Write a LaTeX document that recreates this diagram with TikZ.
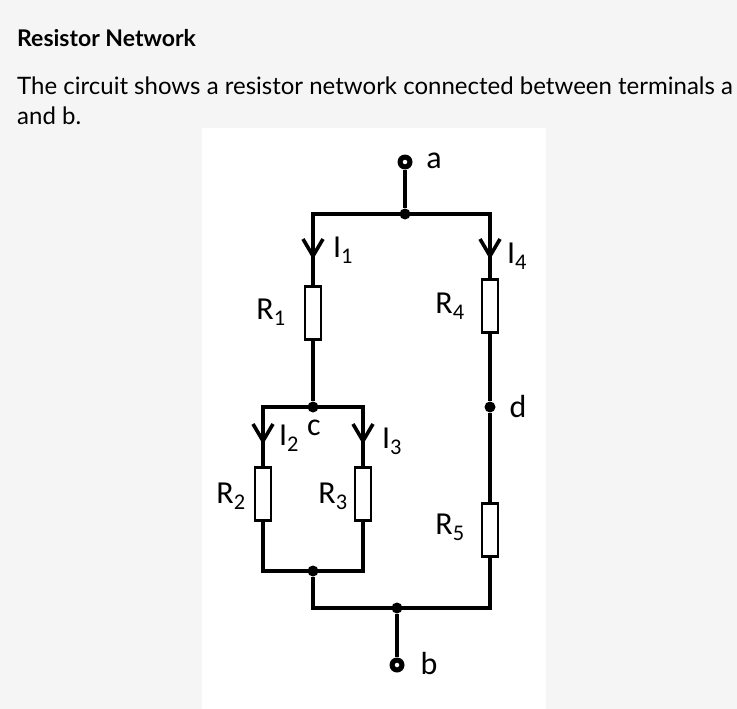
\documentclass[tikz,border=0pt]{standalone}
\usepackage{fontspec}
\setmainfont{Lato}
\newfontfamily\crlfont{Carlito}
\begin{document}
\begin{tikzpicture}[x=1pt,y=-1pt,
  w/.style={line width=3.6pt},
  res/.style={draw,line width=2.8pt,fill=white,minimum width=16pt,minimum height=53pt,inner sep=0pt},
  dot/.style={circle,fill=black,inner sep=0pt,minimum size=11pt},
  term/.style={circle,fill=black,inner sep=0pt,minimum size=15pt},
  hole/.style={circle,fill=white,inner sep=0pt,minimum size=4.5pt},
  lab/.style={font=\crlfont\fontsize{32}{32}\selectfont,inner sep=0pt},
  arr/.style={w,line join=miter}]
\useasboundingbox (0,0) rectangle (737,709);
\fill[white!96!black] (0,0) rectangle (737,709);
\fill[white] (202,128) rectangle (546,709);
\node[anchor=west,inner sep=0pt,font=\bfseries\fontsize{23}{23}\selectfont] (title) at (17,38) {Resistor Network};
\node[anchor=west,inner sep=0pt,font=\fontsize{24}{24}\selectfont] (t1) at (17,86) {The circuit shows a resistor network connected between terminals a};
\node[anchor=west,inner sep=0pt,font=\fontsize{24}{24}\selectfont] (t2) at (17,116) {and b.};
% nodes
\node[term] (a) at (405,162) {};
\node[dot] (ja) at (405,214) {};
\coordinate (tl) at (313,214); \coordinate (tr) at (490,214);
\node[res] (R1) at (313,313) {};
\node[res] (R4) at (490,306) {};
\node[dot] (c) at (313,407) {};
\coordinate (cl) at (263,407); \coordinate (cr) at (363,407);
\node[res] (R2) at (263,494) {};
\node[res] (R3) at (363,494) {};
\node[dot] (e) at (313,571) {};
\coordinate (bl2) at (263,571); \coordinate (br3) at (363,571);
\node[dot] (d) at (490,407) {};
\node[res] (R5) at (490,530) {};
\coordinate (bl) at (313,608); \coordinate (br) at (490,608);
\node[dot] (jb) at (397,608) {};
\node[term] (b) at (397,665) {};
% wires
\draw[w] (a) -- (ja);
\draw[w] (R1.north) -- (tl) -- (tr) -- (R4.north);
\draw[w] (R1.south) -- (c);
\draw[w] (R2.north) -- (cl) -- (cr) -- (R3.north);
\draw[w] (R2.south) -- (bl2) -- (br3) -- (R3.south);
\draw[w] (e) -- (bl) -- (br) -- (R5.south);
\draw[w] (R4.south) -- (d) -- (R5.north);
\draw[w] (jb) -- (b);
\node[res] at (R1) {};\node[res] at (R2) {};\node[res] at (R3) {};\node[res] at (R4) {};\node[res] at (R5) {};
\node[hole] at (a) {};\node[hole] at (b) {};
% arrows
\foreach \p in {(313,256),(490,256),(263,441),(363,441)}{
  \draw[arr] \p ++(-10,-17) -- ++(10,17) -- ++(10,-17);}
% labels
\node[lab] (la) at (434,161) {a};
\node[lab] (lb) at (429,663) {b};
\node[lab] (lc) at (314,428) {c};
\node[lab] (ld) at (518,406) {d};
\node[lab] (lI1) at (343,250) {I\textsubscript{1}};
\node[lab] (lI4) at (517,256) {I\textsubscript{4}};
\node[lab] (lI2) at (289,438) {I\textsubscript{2}};
\node[lab] (lI3) at (392,441) {I\textsubscript{3}};
\node[lab] (lR1) at (271,312) {R\textsubscript{1}};
\node[lab] (lR4) at (450,306) {R\textsubscript{4}};
\node[lab] (lR2) at (231,496) {R\textsubscript{2}};
\node[lab] (lR3) at (333,496) {R\textsubscript{3}};
\node[lab] (lR5) at (450,527) {R\textsubscript{5}};
\end{tikzpicture}
\end{document}
